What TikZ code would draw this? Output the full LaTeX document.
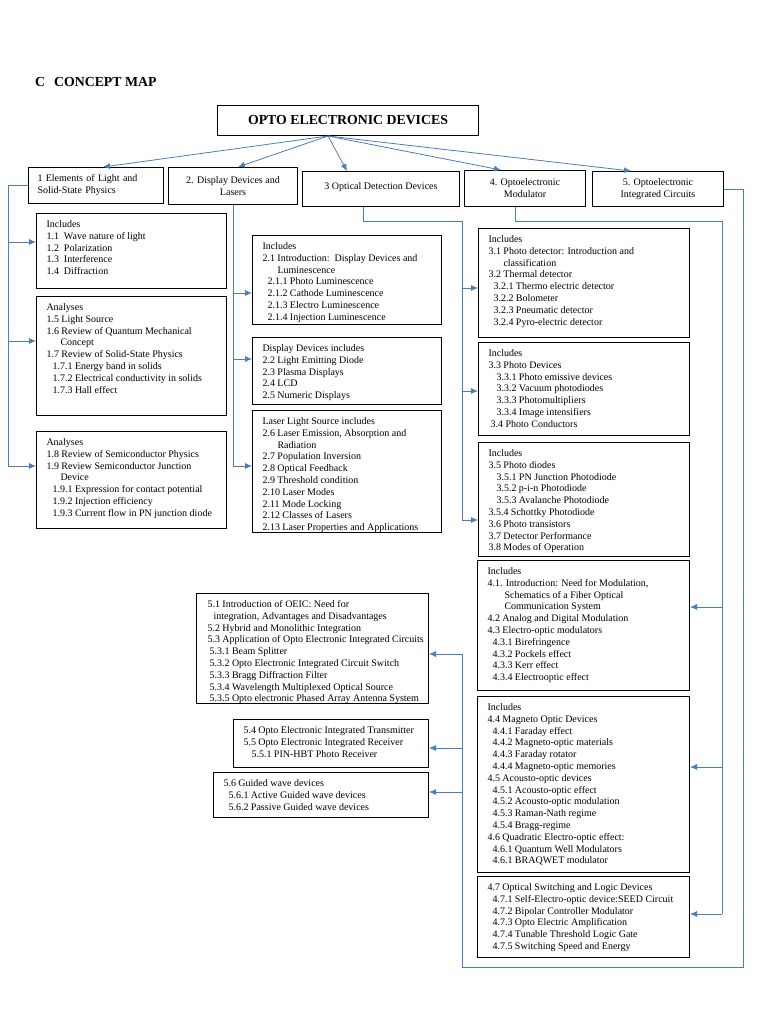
\documentclass[tikz,border=0pt]{standalone}
\usepackage{fontspec}
\setmainfont{Liberation Serif}
\usetikzlibrary{arrows.meta}
\definecolor{linkblue}{RGB}{74,126,187}

\begin{document}
\begin{tikzpicture}[x=1pt,y=-1pt,
	head/.style={draw, line width=1pt, anchor=north west, align=center, inner sep=0pt, font=\fontsize{10}{12}\selectfont},
	box/.style={draw, line width=1pt, anchor=north west, inner xsep=0pt, inner ysep=7pt, font=\fontsize{10}{11.8}\selectfont},
	link/.style={linkblue, line width=0.8pt},
	arr/.style={link, -{Latex[length=7pt,width=6pt]}}]
	\useasboundingbox (0,0) rectangle (768,1024);
	\node[anchor=west, inner sep=0pt, font=\fontsize{13.8}{16}\selectfont\bfseries] (title) at (35,82) {C\hspace{9pt}CONCEPT MAP};
	% top row
	\node[head, minimum width=261, minimum height=30, font=\fontsize{13.8}{16}\selectfont\bfseries] (main) at (217,105) {OPTO ELECTRONIC DEVICES};
	\node[head, minimum width=135, minimum height=36, text width=117, align=left] (b1) at (28,167) {1 Elements of Light and\\Solid-State Physics};
	\node[head, minimum width=129, minimum height=37] (b2) at (168,167) {2. Display Devices and\\Lasers};
	\node[head, minimum width=157, minimum height=35, text depth=5pt] (b3) at (302,171) {3 Optical Detection Devices};
	\node[head, minimum width=121, minimum height=36] (b4) at (464,170) {4. Optoelectronic\\Modulator};
	\node[head, minimum width=131, minimum height=35] (b5) at (592,171) {5. Optoelectronic\\Integrated Circuits};
	\coordinate (hub) at (main.south -| 328,0);
	\foreach \b/\x in {b1/103, b2/238, b3/347, b4/501, b5/631}
		\draw[arr] (hub) -- (\b.north -| \x,0);
	% column 1
	\node[box] (b11) at (36,213) {\parbox[t][61pt][t]{190pt}{\leftskip=10pt\relax
		Includes\\
		1.1\ \ Wave nature of light\\
		1.2\ \ Polarization\\
		1.3\ \ Interference\\
		1.4\ \ Diffraction}};
	\node[box] (b12) at (36,296) {\parbox[t][105pt][t]{190pt}{\leftskip=10pt\relax
		Analyses\\
		1.5 Light Source\\
		1.6 Review of Quantum Mechanical\\
		\hspace*{14pt}Concept\\
		1.7 Review of Solid-State Physics\\
		\hspace*{6pt}1.7.1 Energy band in solids\\
		\hspace*{6pt}1.7.2 Electrical conductivity in solids\\
		\hspace*{6pt}1.7.3 Hall effect}};
	\node[box] (b13) at (36,431) {\parbox[t][83pt][t]{190pt}{\leftskip=10pt\relax
		Analyses\\
		1.8 Review of Semiconductor Physics\\
		1.9 Review Semiconductor Junction\\
		\hspace*{14pt}Device\\
		\hspace*{6pt}1.9.1 Expression for contact potential\\
		\hspace*{6pt}1.9.2 Injection efficiency\\
		\hspace*{6pt}1.9.3 Current flow in PN junction diode}};
	% column 2
	\node[box] (b21) at (252,235) {\parbox[t][75pt][t]{189pt}{\leftskip=10pt\relax
		Includes\\
		2.1 Introduction:\ \ Display Devices and\\
		\hspace*{15pt}Luminescence\\
		\hspace*{5pt}2.1.1 Photo Luminescence\\
		\hspace*{5pt}2.1.2 Cathode Luminescence\\
		\hspace*{5pt}2.1.3 Electro Luminescence\\
		\hspace*{5pt}2.1.4 Injection Luminescence}};
	\node[box] (b22) at (252,337) {\parbox[t][53pt][t]{189pt}{\leftskip=10pt\relax
		Display Devices includes\\
		2.2 Light Emitting Diode\\
		2.3 Plasma Displays\\
		2.4 LCD\\
		2.5 Numeric Displays}};
	\node[box] (b23) at (252,410) {\parbox[t][108pt][t]{189pt}{\leftskip=10pt\relax
		Laser Light Source includes\\
		2.6 Laser Emission, Absorption and\\
		\hspace*{15pt}Radiation\\
		2.7 Population Inversion\\
		2.8 Optical Feedback\\
		2.9 Threshold condition\\
		2.10 Laser Modes\\
		2.11 Mode Locking\\
		2.12 Classes of Lasers\\
		2.13 Laser Properties and Applications}};
	% column 3
	\node[box] (b31) at (478,228) {\parbox[t][95pt][t]{211pt}{\leftskip=10pt\relax
		Includes\\
		3.1 Photo detector: Introduction and\\
		\hspace*{15pt}classification\\
		3.2 Thermal detector\\
		\hspace*{5pt}3.2.1 Thermo electric detector\\
		\hspace*{5pt}3.2.2 Bolometer\\
		\hspace*{5pt}3.2.3 Pneumatic detector\\
		\hspace*{5pt}3.2.4 Pyro-electric detector}};
	\node[box] (b32) at (478,342) {\parbox[t][79pt][t]{211pt}{\leftskip=10pt\relax
		Includes\\
		3.3 Photo Devices\\
		\hspace*{8pt}3.3.1 Photo emissive devices\\
		\hspace*{8pt}3.3.2 Vacuum photodiodes\\
		\hspace*{8pt}3.3.3 Photomultipliers\\
		\hspace*{8pt}3.3.4 Image intensifiers\\
		\hspace*{2pt}3.4 Photo Conductors}};
	\node[box] (b33) at (478,442) {\parbox[t][100pt][t]{211pt}{\leftskip=10pt\relax
		Includes\\
		3.5 Photo diodes\\
		\hspace*{8pt}3.5.1 PN Junction Photodiode\\
		\hspace*{8pt}3.5.2 p-i-n Photodiode\\
		\hspace*{8pt}3.5.3 Avalanche Photodiode\\
		3.5.4 Schottky Photodiode\\
		3.6 Photo transistors\\
		3.7 Detector Performance\\
		3.8 Modes of Operation}};
	\node[box] (b41) at (477,560) {\parbox[t][116pt][t]{212pt}{\leftskip=10pt\relax
		Includes\\
		4.1. Introduction: Need for Modulation,\\
		\hspace*{17pt}Schematics of a Fiber Optical\\
		\hspace*{17pt}Communication System\\
		4.2 Analog and Digital Modulation\\
		4.3 Electro-optic modulators\\
		\hspace*{5pt}4.3.1 Birefringence\\
		\hspace*{5pt}4.3.2 Pockels effect\\
		\hspace*{5pt}4.3.3 Kerr effect\\
		\hspace*{5pt}4.3.4 Electrooptic effect}};
	\node[box] (b42) at (477,696) {\parbox[t][162pt][t]{212pt}{\leftskip=10pt\relax
		Includes\\
		4.4 Magneto Optic Devices\\
		\hspace*{5pt}4.4.1 Faraday effect\\
		\hspace*{5pt}4.4.2 Magneto-optic materials\\
		\hspace*{5pt}4.4.3 Faraday rotator\\
		\hspace*{5pt}4.4.4 Magneto-optic memories\\
		4.5 Acousto-optic devices\\
		\hspace*{5pt}4.5.1 Acousto-optic effect\\
		\hspace*{5pt}4.5.2 Acousto-optic modulation\\
		\hspace*{5pt}4.5.3 Raman-Nath regime\\
		\hspace*{5pt}4.5.4 Bragg-regime\\
		4.6 Quadratic Electro-optic effect:\\
		\hspace*{5pt}4.6.1 Quantum Well Modulators\\
		\hspace*{5pt}4.6.1 BRAQWET modulator}};
	\node[box] (b43) at (477,876) {\parbox[t][67pt][t]{212pt}{\leftskip=10pt\relax
		4.7 Optical Switching and Logic Devices\\
		\hspace*{5pt}4.7.1 Self-Electro-optic device:SEED Circuit\\
		\hspace*{5pt}4.7.2 Bipolar Controller Modulator\\
		\hspace*{5pt}4.7.3 Opto Electric Amplification\\
		\hspace*{5pt}4.7.4 Tunable Threshold Logic Gate\\
		\hspace*{5pt}4.7.5 Switching Speed and Energy}};
	% column 5 (bottom left)
	\node[box] (b51) at (196,593) {\parbox[t][96pt][t]{232pt}{\leftskip=11pt\relax
		5.1 Introduction of OEIC: Need for\\
		\hspace*{6pt}integration, Advantages and Disadvantages\\
		5.2 Hybrid and Monolithic Integration\\
		5.3 Application of Opto Electronic Integrated Circuits\\
		\hspace*{2pt}5.3.1 Beam Splitter\\
		\hspace*{2pt}5.3.2 Opto Electronic Integrated Circuit Switch\\
		\hspace*{2pt}5.3.3 Bragg Diffraction Filter\\
		\hspace*{2pt}5.3.4 Wavelength Multiplexed Optical Source\\
		\hspace*{2pt}5.3.5 Opto electronic Phased Array Antenna System}};
	\node[box] (b52) at (233,719) {\parbox[t][34pt][t]{195pt}{\leftskip=10pt\relax
		5.4 Opto Electronic Integrated Transmitter\\
		5.5 Opto Electronic Integrated Receiver\\
		\hspace*{8pt}5.5.1 PIN-HBT Photo Receiver}};
	\node[box] (b53) at (213,772) {\parbox[t][31pt][t]{215pt}{\leftskip=10pt\relax
		5.6 Guided wave devices\\
		\hspace*{5pt}5.6.1 Active Guided wave devices\\
		\hspace*{5pt}5.6.2 Passive Guided wave devices}};
	% connectors
	\coordinate (t1) at (8,466);
	\draw[link] (b1.west) -| (t1);
	\foreach \b/\y in {b11/242, b12/341, b13/466}
		\draw[arr] (t1 |- 0,\y) -- (\b.west |- 0,\y);
	\coordinate (t2) at (b2.south |- 0,466);
	\draw[link] (b2.south) -- (t2);
	\foreach \b/\y in {b21/293, b22/359, b23/466}
		\draw[arr] (t2 |- 0,\y) -- (\b.west |- 0,\y);
	\coordinate (t3) at (462,520);
	\draw[link] (b3.south -| 363,0) |- (t3 |- 0,221) -- (t3);
	\foreach \b/\y in {b31/288, b32/391, b33/520}
		\draw[arr] (t3 |- 0,\y) -- (\b.west |- 0,\y);
	\coordinate (t4) at (722,914);
	\draw[link] (b4.south -| 515,0) |- (t4 |- 0,221) -- (t4);
	\foreach \b/\y in {b41/607, b42/767, b43/914}
		\draw[arr] (t4 |- 0,\y) -- (\b.east |- 0,\y);
	\coordinate (t5) at (462,654);
	\draw[link] (b5.east) -| (743,967) -| (t5);
	\foreach \b/\y in {b51/654, b52/748, b53/792}
		\draw[arr] (t5 |- 0,\y) -- (\b.east |- 0,\y);
\end{tikzpicture}
\end{document}
